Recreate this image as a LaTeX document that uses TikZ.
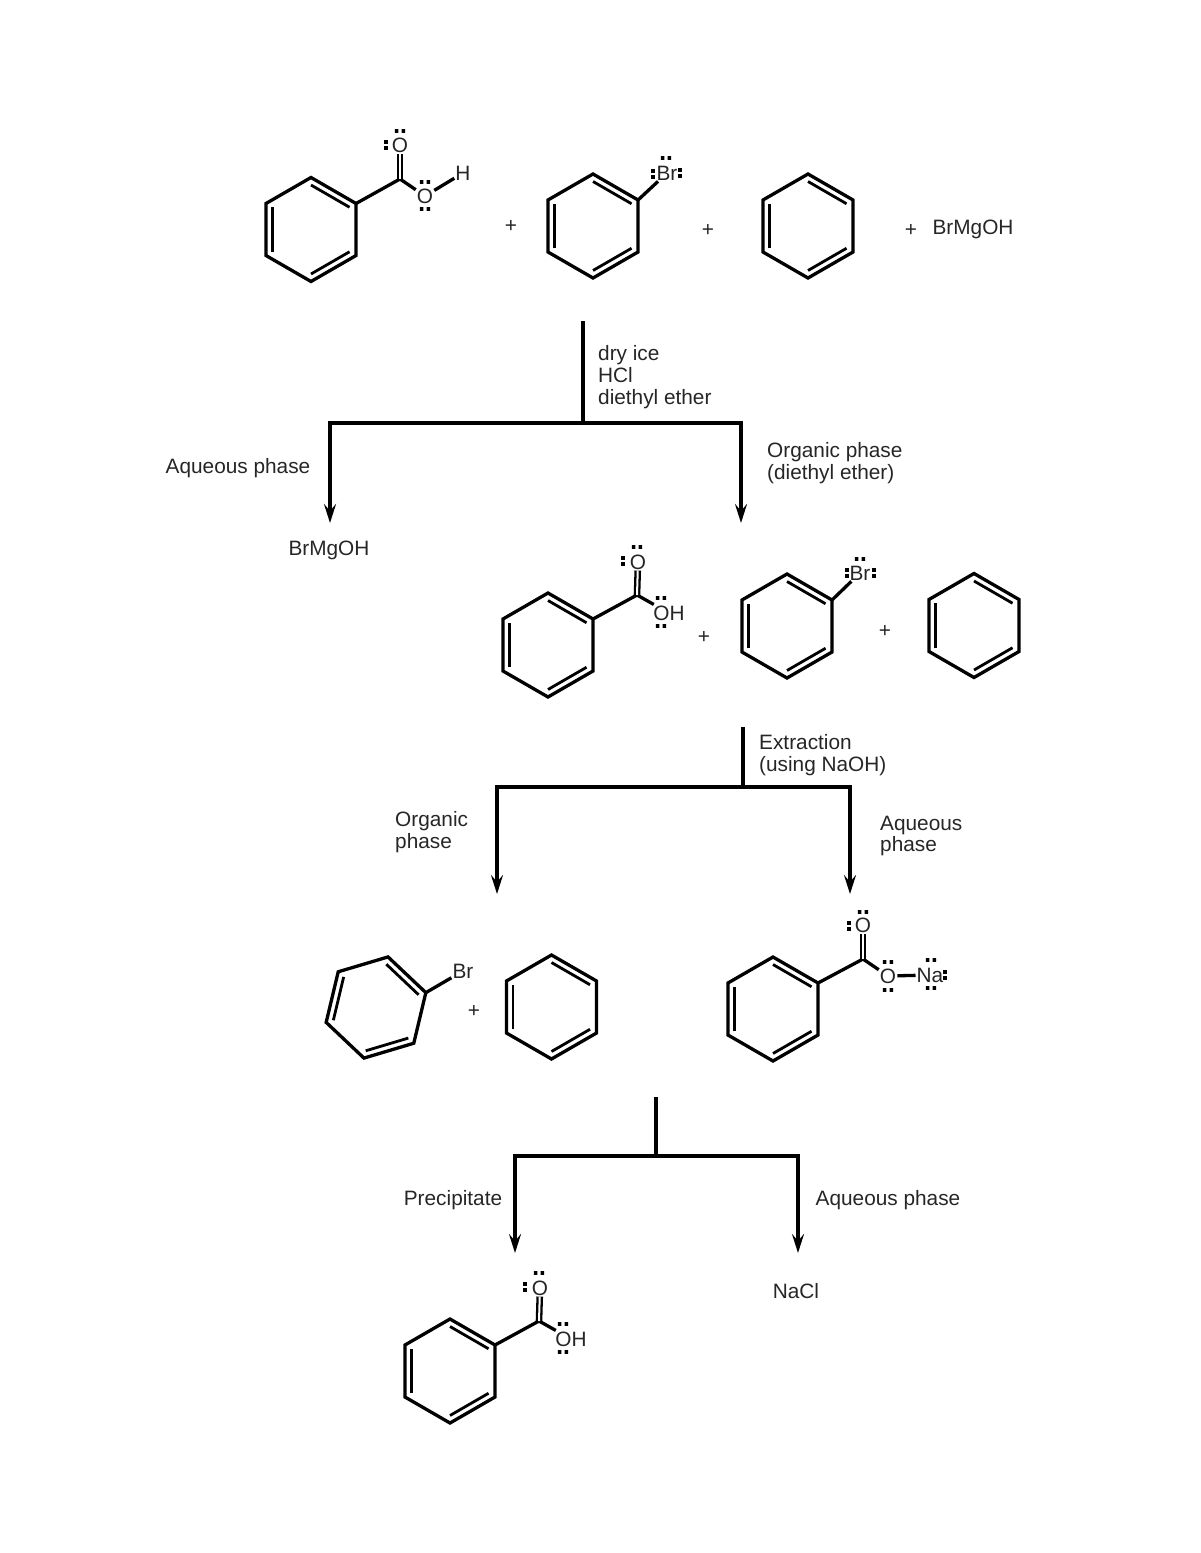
\documentclass[tikz,border=0pt]{standalone}
\usepackage{fontspec}
\setmainfont{Liberation Sans}
\usetikzlibrary{arrows.meta, positioning}

\newcommand{\lblfont}{\fontsize{20.8}{21.8}\selectfont}
% lone pairs of dots
\newcommand{\pairh}[1]{\fill (#1) +(-5.2,-1.8) rectangle +(-1.6,1.8) +(1.6,-1.8) rectangle +(5.2,1.8);}
\newcommand{\pairv}[1]{\fill (#1) +(-1.8,-4.8) rectangle +(1.8,-1.2) +(-1.8,1.2) rectangle +(1.8,4.8);}

\tikzset{
    bond/.style={line width=3.3pt},
    dbl/.style={double, double distance=2pt, line width=2.3pt},
    stem/.style={line width=3.3pt},
    arrow/.style={-{Stealth[length=19pt,width=12pt,inset=7pt]}, line width=3.3pt},
    lbl/.style={font=\lblfont, inner sep=0pt, align=left, yshift=-2pt, text=black!85},
    atom/.style={font=\lblfont, inner sep=1pt, text=black!85},
    ring/.pic={
        \draw[bond] (-90:52) coordinate (-t) -- (-30:52) coordinate (-v) -- (30:52)
            -- (90:52) -- (150:52) -- (210:52) -- cycle;
        \draw[line width=2.8pt] (-90:44.5) -- (-30:44.5);
        \draw[line width=2.8pt] (90:44.5) -- (30:44.5);
        \draw[line width=2.8pt] (150:44.5) -- (210:44.5);
    }
}

\begin{document}
\begin{tikzpicture}[x=1pt, y=-1pt]
\useasboundingbox (0,0) rectangle (1200,1553);

% Top row
\pic (ringa) at (311,229.5) {ring};
\coordinate (ca) at (400,179);
\node[atom] (oa) at (400,145) {O};
\node[atom] (ob) at (425,196) {O};
\node[atom] (ha) at (463,173) {H};
\draw[bond] (ringa-v) -- (ca) -- (ob);
\draw[dbl] (ca) -- (oa);
\draw[bond] (ob) -- (ha);
\pairh{400,131} \pairv{386,145}
\pairh{425,182} \pairh{425,209}
\node[lbl] (plusa) at (511,224) {+};
\pic (ringb) at (593,226) {ring};
\node[atom] (bra) at (667,173) {Br};
\draw[bond] (ringb-v) -- (bra);
\pairh{666,158} \pairv{653,174} \pairv{680,173}
\node[lbl] (plusb) at (708,228) {+};
\pic (ringc) at (808,226) {ring};
\node[lbl] (plusc) at (911,228) {+};
\node[lbl] (saltb) at (973,227) {BrMgOH};

% First separation
\coordinate (topa) at (583,321);
\coordinate (forka) at (583,423);
\coordinate (enda) at (330,523);
\coordinate (endb) at (741,523);
\draw[stem, line width=4.2pt] (topa) -- (forka);
\draw[arrow] (forka) -| (enda);
\draw[arrow] (forka) -| (endb);
\node[lbl, anchor=west] (reagents) at (598,375) {dry ice\\HCl\\diethyl ether};
\node[lbl] (aqa) at (238,466) {Aqueous phase};
\node[lbl, anchor=west] (orga) at (767,461) {Organic phase\\(diethyl ether)};
\node[lbl] (saltc) at (329,548) {BrMgOH};

% Organic phase mixture
\pic (ringd) at (548,645) {ring};
\coordinate (cb) at (637,595);
\node[atom] (oc) at (638,562) {O};
\node[atom] (oha) at (669,613) {OH};
\draw[bond] (ringd-v) -- (cb) -- (oha);
\draw[dbl] (cb) -- (oc);
\pairh{637,547} \pairv{623,561}
\pairh{661,598} \pairh{661,626}
\node[lbl] (plusd) at (704,635) {+};
\pic (ringe) at (787,626) {ring};
\node[atom] (brb) at (860,573) {Br};
\draw[bond] (ringe-v) -- (brb);
\pairh{860,559} \pairv{847,573} \pairv{874,573}
\node[lbl] (pluse) at (885,629) {+};
\pic (ringf) at (974,625.5) {ring};

% Extraction
\coordinate (topb) at (743,727);
\coordinate (forkb) at (743,787);
\coordinate (endc) at (497,894);
\coordinate (endd) at (850,894);
\draw[stem] (topb) -- (forkb);
\draw[arrow] (forkb) -| (endc);
\draw[arrow] (forkb) -| (endd);
\node[lbl, anchor=west] (extract) at (759,753) {Extraction\\(using NaOH)};
\node[lbl, anchor=west] (orgb) at (395,830) {Organic\\phase};
\node[lbl, anchor=west] (aqb) at (880,834) {Aqueous\\phase};

% Products of extraction
\pic[rotate=-13.4] (ringg) at (376,1007.5) {ring};
\node[atom] (brc) at (463,971) {Br};
\draw[bond] (ringg-v) -- (brc);
\node[lbl] (plusf) at (474,1009) {+};
\pic (ringh) at (551.5,1007) {ring};
\pic (ringi) at (773,1009) {ring};
\coordinate (cc) at (863,959);
\node[atom] (od) at (863,925) {O};
\node[atom] (oe) at (888,976) {O};
\node[atom] (na) at (930,975) {Na};
\draw[bond] (ringi-v) -- (cc) -- (oe);
\draw[dbl] (cc) -- (od);
\draw[bond] (oe) -- (na);
\pairh{863,912} \pairv{849,926}
\pairh{888,962} \pairh{888,990}
\pairh{931,960} \pairh{931,988} \pairv{945,975}

% Precipitation
\coordinate (topc) at (656,1097);
\coordinate (forkc) at (656,1156);
\coordinate (ende) at (515,1253);
\coordinate (endf) at (798,1253);
\draw[stem] (topc) -- (forkc);
\draw[arrow] (forkc) -| (ende);
\draw[arrow] (forkc) -| (endf);
\node[lbl] (precip) at (453,1198) {Precipitate};
\node[lbl] (aqc) at (888,1198) {Aqueous phase};
\node[lbl] (nacl) at (796,1289) {NaCl};

% Recovered acid
\pic (ringj) at (450,1371) {ring};
\coordinate (cd) at (539,1321);
\node[atom] (of) at (540,1288) {O};
\node[atom] (ohb) at (571,1339) {OH};
\draw[bond] (ringj-v) -- (cd) -- (ohb);
\draw[dbl] (cd) -- (of);
\pairh{539,1273} \pairv{525,1287}
\pairh{563,1324} \pairh{563,1352}

\end{tikzpicture}
\end{document}
